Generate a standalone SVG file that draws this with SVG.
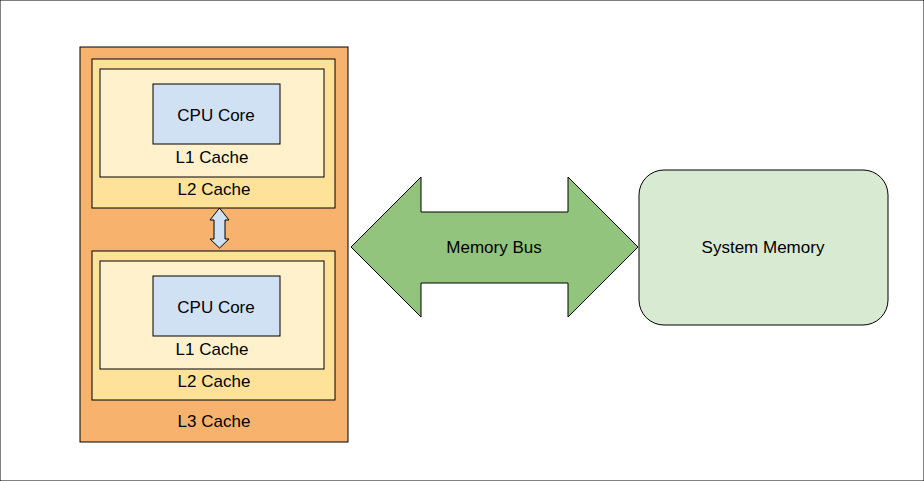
<svg xmlns="http://www.w3.org/2000/svg" width="924" height="481" viewBox="0 0 924 481">
<style>
rect,path{stroke:#000;stroke-width:1}
.l3{fill:#f7b26d}.l2{fill:#ffe299}.l1{fill:#fff1cc}.cpu{fill:#cfe1f3}
text{font-family:"Liberation Sans",Arial,sans-serif;font-size:17px;fill:#000;text-anchor:middle}
</style>
<rect width="924" height="481" fill="#fff" stroke="none"/>
<g id="l3"><rect class="l3" x="80" y="47" width="268" height="395"/><text x="214" y="427">L3 Cache</text></g>
<g id="core1">
<rect class="l2" x="92" y="59" width="243" height="149"/><text x="214" y="195">L2 Cache</text>
<rect class="l1" x="100" y="69" width="224" height="108"/><text x="212" y="163">L1 Cache</text>
<rect class="cpu" x="153" y="84" width="127" height="60"/><text x="216" y="121">CPU Core</text>
</g>
<g id="core2">
<rect class="l2" x="92" y="251" width="243" height="149"/><text x="214" y="387">L2 Cache</text>
<rect class="l1" x="100" y="261" width="224" height="108"/><text x="212" y="355">L1 Cache</text>
<rect class="cpu" x="153" y="276" width="127" height="60"/><text x="216" y="313">CPU Core</text>
</g>
<g id="connectors">
<path d="M219.5,208 L229,220 L225,220 L225,239 L229,239 L219.5,248 L210,239 L214,239 L214,220 L210,220 Z" fill="#cfe1f3"/>
<path d="M351,247 L421,177 L421,212 L568,212 L568,177 L638,247 L568,317 L568,283 L421,283 L421,317 Z" fill="#93c47d"/>
<text x="494" y="253">Memory Bus</text>
</g>
<g id="memory"><rect x="639" y="170" width="249" height="155" rx="25" fill="#d9ead3"/><text x="763" y="253">System Memory</text></g>
</svg>
